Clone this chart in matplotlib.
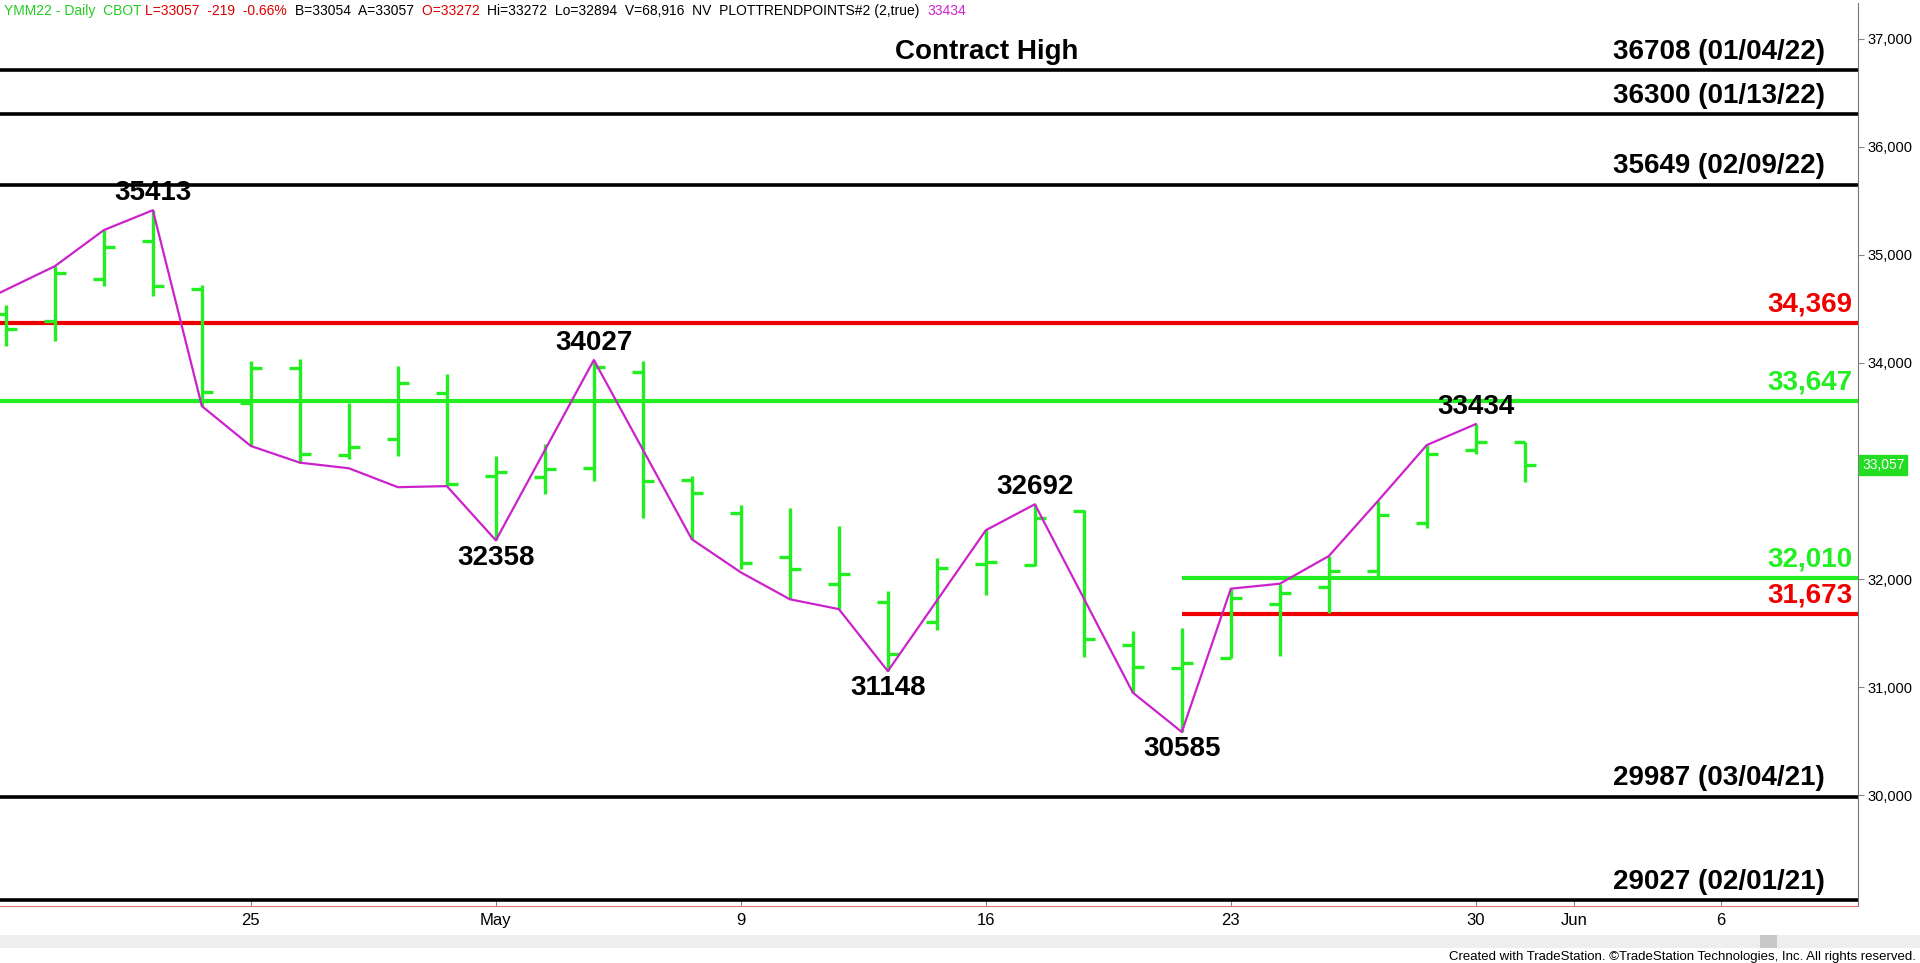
import matplotlib
matplotlib.use("Agg")
import matplotlib.pyplot as plt
from matplotlib.patches import Rectangle

plt.rcParams['font.family'] = ['Liberation Sans', 'DejaVu Sans']

# OHLC bars (trading-day index 0 = Apr 18)
opens  = [34450, 34387, 34778, 35128, 34687, 33630, 33955, 33150, 33298, 33724,
          32950, 32947, 33030, 33914, 32919, 32614, 32208, 31950, 31790, 31600,
          32143, 32126, 32630, 31389, 31180, 31270, 31770, 31926, 32070, 32516,
          33194, 33272]
highs  = [34532, 34895, 35229, 35413, 34717, 34017, 34038, 33625, 33970, 33895,
          33138, 33246, 34027, 34020, 32956, 32687, 32657, 32492, 31892, 32196,
          32452, 32692, 32639, 31519, 31550, 31911, 31957, 32213, 32721, 33240,
          33434, 33272]
lows   = [34156, 34202, 34710, 34618, 33600, 33231, 33077, 33115, 33139, 32860,
          32358, 32783, 32909, 32568, 32368, 32096, 31813, 31722, 31148, 31530,
          31848, 32120, 31280, 30949, 30585, 31270, 31292, 31689, 31997, 32476,
          33154, 32894]
closes = [34310, 34834, 35074, 34710, 33735, 33955, 33154, 33220, 33817, 32876,
          32990, 33021, 33965, 32906, 32796, 32152, 32096, 32050, 31303, 32104,
          32160, 32567, 31450, 31189, 31220, 31825, 31871, 32070, 32589, 33154,
          33271, 33057]

# trend-point line vertices
zz_idx = [-0.12, 1, 2, 3, 4, 5, 6, 7, 8, 9, 10, 12, 14, 15, 16, 17, 18, 20, 21,
          23, 24, 25, 26, 27, 28, 29, 30]
zz_val = [34650, 34895, 35229, 35413, 33600, 33231, 33077, 33025, 32850, 32860,
          32358, 34027, 32368, 32062, 31813, 31722, 31148, 32452, 32692,
          30949, 30585, 31911, 31957, 32213, 32721, 33240, 33434]

# pivot labels
piv_idx = [3, 10, 12, 18, 21, 24, 30]
piv_val = [35413, 32358, 34027, 31148, 32692, 30585, 33434]
piv_up  = [True, False, True, False, True, False, True]

# horizontal levels
black_levels = [36708, 36300, 35649, 29987, 29027]
black_labels = ["36708 (01/04/22)", "36300 (01/13/22)", "35649 (02/09/22)",
                "29987 (03/04/21)", "29027 (02/01/21)"]
full_levels = [34369, 33647]
full_labels = ["34,369", "33,647"]
full_colors = ["#ee0000", "#22ee22"]
part_levels = [32010, 31673]
part_labels = ["32,010", "31,673"]
part_colors = ["#22ee22", "#ee0000"]
part_start = 24

xtick_pos = [5, 10, 15, 20, 25, 30, 32, 35]
xtick_lab = ["25", "May", "9", "16", "23", "30", "Jun", "6"]
ytick_vals = [30000, 31000, 32000, 33000, 34000, 35000, 36000, 37000]

header = [("YMM22 - Daily  CBOT ", "#22cc22"),
          ("L=33057  -219  -0.66%  ", "#dd0000"),
          ("B=33054  A=33057  ", "black"),
          ("O=33272  ", "#dd0000"),
          ("Hi=33272  Lo=32894  V=68,916  NV  PLOTTRENDPOINTS#2 (2,true)  ", "black"),
          ("33434", "#cc22cc")]

W, H = 1920, 963
fig = plt.figure(figsize=(W/100, H/100), dpi=100)
fig.patch.set_facecolor("white")
pl, pr, pt, pb = 0, 1858, 3, 906
ax = fig.add_axes([pl/W, 1-pb/H, (pr-pl)/W, (pb-pt)/H])
ax.set_xlim(-0.12, 37.8)
ax.set_ylim(28975, 37330)

green = "#22ee22"
for i in range(len(opens)):
    ax.vlines(i, lows[i], highs[i], color=green, lw=2.4, zorder=3)
    ax.hlines(opens[i], i-0.22, i, color=green, lw=2.4, zorder=3)
    ax.hlines(closes[i], i, i+0.22, color=green, lw=2.4, zorder=3)

ax.plot(zz_idx, zz_val, color="#cc22cc", lw=1.6, zorder=4)

fs = 20
for i, v, up in zip(piv_idx, piv_val, piv_up):
    if up:
        ax.annotate(str(v), (i, v), xytext=(0, 3), textcoords="offset points",
                    ha="center", va="bottom", fontsize=fs, fontweight="bold")
    else:
        ax.annotate(str(v), (i, v), xytext=(0, -3), textcoords="offset points",
                    ha="center", va="top", fontsize=fs, fontweight="bold")

lx = 1825/1858
for v, t in zip(black_levels, black_labels):
    ax.axhline(v, color="black", lw=2.6, zorder=2)
    ax.annotate(t, (lx, v), xycoords=("axes fraction", "data"), xytext=(0, 4),
                textcoords="offset points", ha="right", va="bottom",
                fontsize=fs, fontweight="bold")
ax.annotate("Contract High", (0.531, 36708), xycoords=("axes fraction", "data"),
            xytext=(0, 4), textcoords="offset points", ha="center", va="bottom",
            fontsize=fs, fontweight="bold")
rx = 1852/1858
for v, t, c in zip(full_levels, full_labels, full_colors):
    ax.axhline(v, color=c, lw=3, zorder=2)
    ax.annotate(t, (rx, v), xycoords=("axes fraction", "data"), xytext=(0, 4),
                textcoords="offset points", ha="right", va="bottom",
                fontsize=fs, fontweight="bold", color=c)
for v, t, c in zip(part_levels, part_labels, part_colors):
    ax.hlines(v, part_start, 37.8, color=c, lw=3, zorder=2)
    ax.annotate(t, (rx, v), xycoords=("axes fraction", "data"), xytext=(0, 4),
                textcoords="offset points", ha="right", va="bottom",
                fontsize=fs, fontweight="bold", color=c)

# axes styling
ax.yaxis.tick_right()
ax.set_yticks(ytick_vals)
ax.set_yticklabels([("" if v == 33000 else f"{v:,}") for v in ytick_vals], fontsize=10.5)
ax.tick_params(axis="y", length=4, color="#888888", pad=3)
ax.set_xticks(xtick_pos)
ax.set_xticklabels(xtick_lab, fontsize=12)
ax.tick_params(axis="x", length=5, direction="in", color="#888888", pad=5)
for s in ["top", "left"]:
    ax.spines[s].set_visible(False)
ax.spines["right"].set_color("#777777")
ax.spines["bottom"].set_color("#dd7777")

# current price tag
ax.annotate(f"{closes[-1]:,}", (1.0, closes[-1]), xycoords=("axes fraction", "data"),
            xytext=(3, 0), textcoords="offset points", ha="left", va="center",
            fontsize=10, color="white", annotation_clip=False,
            bbox=dict(boxstyle="square,pad=0.2", fc="#22dd22", ec="#22dd22"))

# header
fig.canvas.draw()
r = fig.canvas.get_renderer()
x = 4
for t, c in header:
    tx = fig.text(x/W, 1-11/H, t, color=c, fontsize=10, va="center")
    x = tx.get_window_extent(r).x1

# scrollbar and footer
fig.patches.append(Rectangle((0, 1-948/H), 1, 13/H, transform=fig.transFigure,
                             fc="#eeeeee", ec="none"))
fig.patches.append(Rectangle((1760/W, 1-948/H), 17/W, 13/H, transform=fig.transFigure,
                             fc="#c8c8c8", ec="none"))
fig.text(0.998, 1-957/H, "Created with TradeStation. \u00a9TradeStation Technologies, Inc. All rights reserved.",
         ha="right", va="center", fontsize=9.5)

fig.savefig("out.png", dpi=100)
